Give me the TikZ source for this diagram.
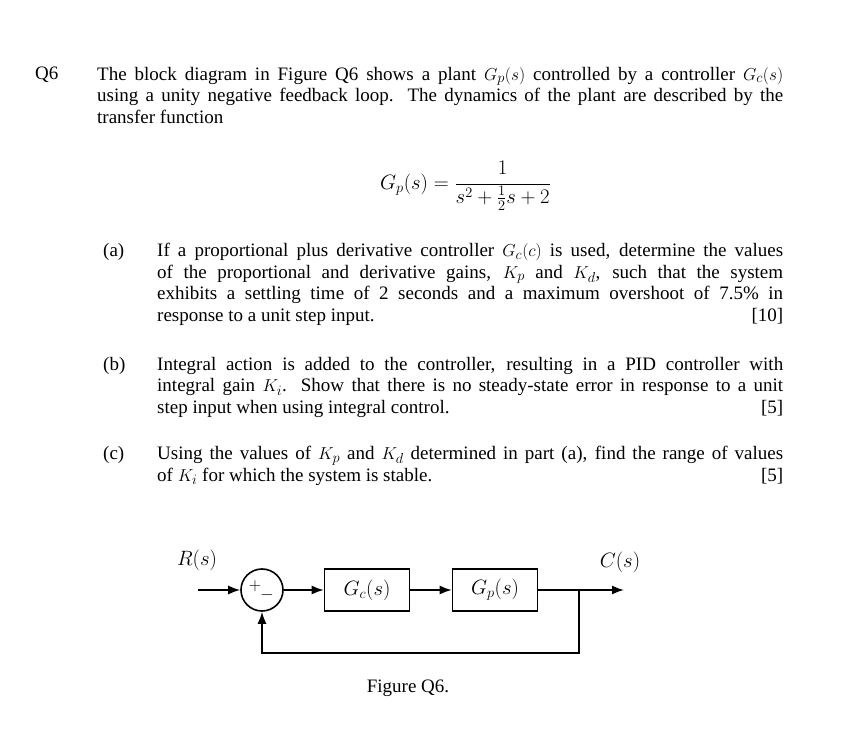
\documentclass[tikz,border=0pt]{standalone}
\usepackage{fontspec}
\setmainfont{Liberation Serif}
\usetikzlibrary{arrows.meta}
\begin{document}
\begin{tikzpicture}[x=1pt,y=-1pt,
  txt/.style={anchor=north west,inner sep=0pt,font=\fontsize{19}{21.5}\selectfont,align=justify},
  blk/.style={draw,line width=1.6pt,minimum width=85pt,minimum height=42pt,inner sep=0pt,font=\fontsize{21}{22}\selectfont},
  sig/.style={line width=1.6pt,-{Latex[length=12pt,width=9pt]}},
  ln/.style={line width=1.6pt}]
\useasboundingbox (0,0) rectangle (863,735);
\node[txt] (q) at (35,67) {Q6};
\node[txt,text width=686pt] (intro) at (97,67) {The block diagram in Figure Q6 shows a plant $G_p(s)$ controlled by a controller $G_c(s)$\linebreak using a unity negative feedback loop. The dynamics of the plant are described by the\linebreak transfer function};
\node[anchor=west,inner sep=0pt,font=\fontsize{21}{23}\selectfont] (eq) at (380,186) {$\displaystyle G_p(s)=\frac{1}{s^2+\frac{1}{2}s+2}$};
\node[txt] (la) at (103,243) {(a)};
\node[txt,text width=626pt] (ta) at (157,243) {If a proportional plus derivative controller $G_c(c)$ is used, determine the values\linebreak of the proportional and derivative gains, $K_p$ and $K_d$, such that the system\linebreak exhibits a settling time of 2 seconds and a maximum overshoot of 7.5\% in\linebreak response to a unit step input.\hfill[10]};
\node[txt] (lb) at (103,357) {(b)};
\node[txt,text width=626pt] (tb) at (157,357) {Integral action is added to the controller, resulting in a PID controller with\linebreak integral gain $K_i$. Show that there is no steady-state error in response to a unit\linebreak step input when using integral control.\hfill[5]};
\node[txt] (lc) at (103,446) {(c)};
\node[txt,text width=626pt] (tc) at (157,446) {Using the values of $K_p$ and $K_d$ determined in part (a), find the range of values\linebreak of $K_i$ for which the system is stable.\hfill[5]};
% block diagram
\node[draw,circle,line width=1.6pt,minimum size=42pt,inner sep=0pt] (sum) at (262,590) {};
\node[font=\fontsize{18}{18}\selectfont,inner sep=0pt] (pl) at (255,586) {$+$};
\node[font=\fontsize{18}{18}\selectfont,inner sep=0pt] (mi) at (267,595) {$-$};
\node[blk] (gc) at (367,590) {$G_c(s)$};
\node[blk] (gp) at (495,590) {$G_p(s)$};
\coordinate (in) at (198,590);
\coordinate (br) at (579,590);
\coordinate (out) at (624,590);
\coordinate (fb) at (579,653);
\node[font=\fontsize{21}{22}\selectfont,inner sep=0pt] (R) at (197,560) {$R(s)$};
\node[font=\fontsize{21}{22}\selectfont,inner sep=0pt] (C) at (620,562) {$C(s)$};
\draw[sig] (in) -- (sum);
\draw[sig] (sum) -- (gc);
\draw[sig] (gc) -- (gp);
\draw[ln] (gp) -- (br);
\draw[sig] (br) -- (out);
\draw[sig] (br) -- (fb) -| (sum);
\node[font=\fontsize{19}{21}\selectfont,inner sep=0pt] (fig) at (408,688) {Figure Q6.};
\end{tikzpicture}
\end{document}
